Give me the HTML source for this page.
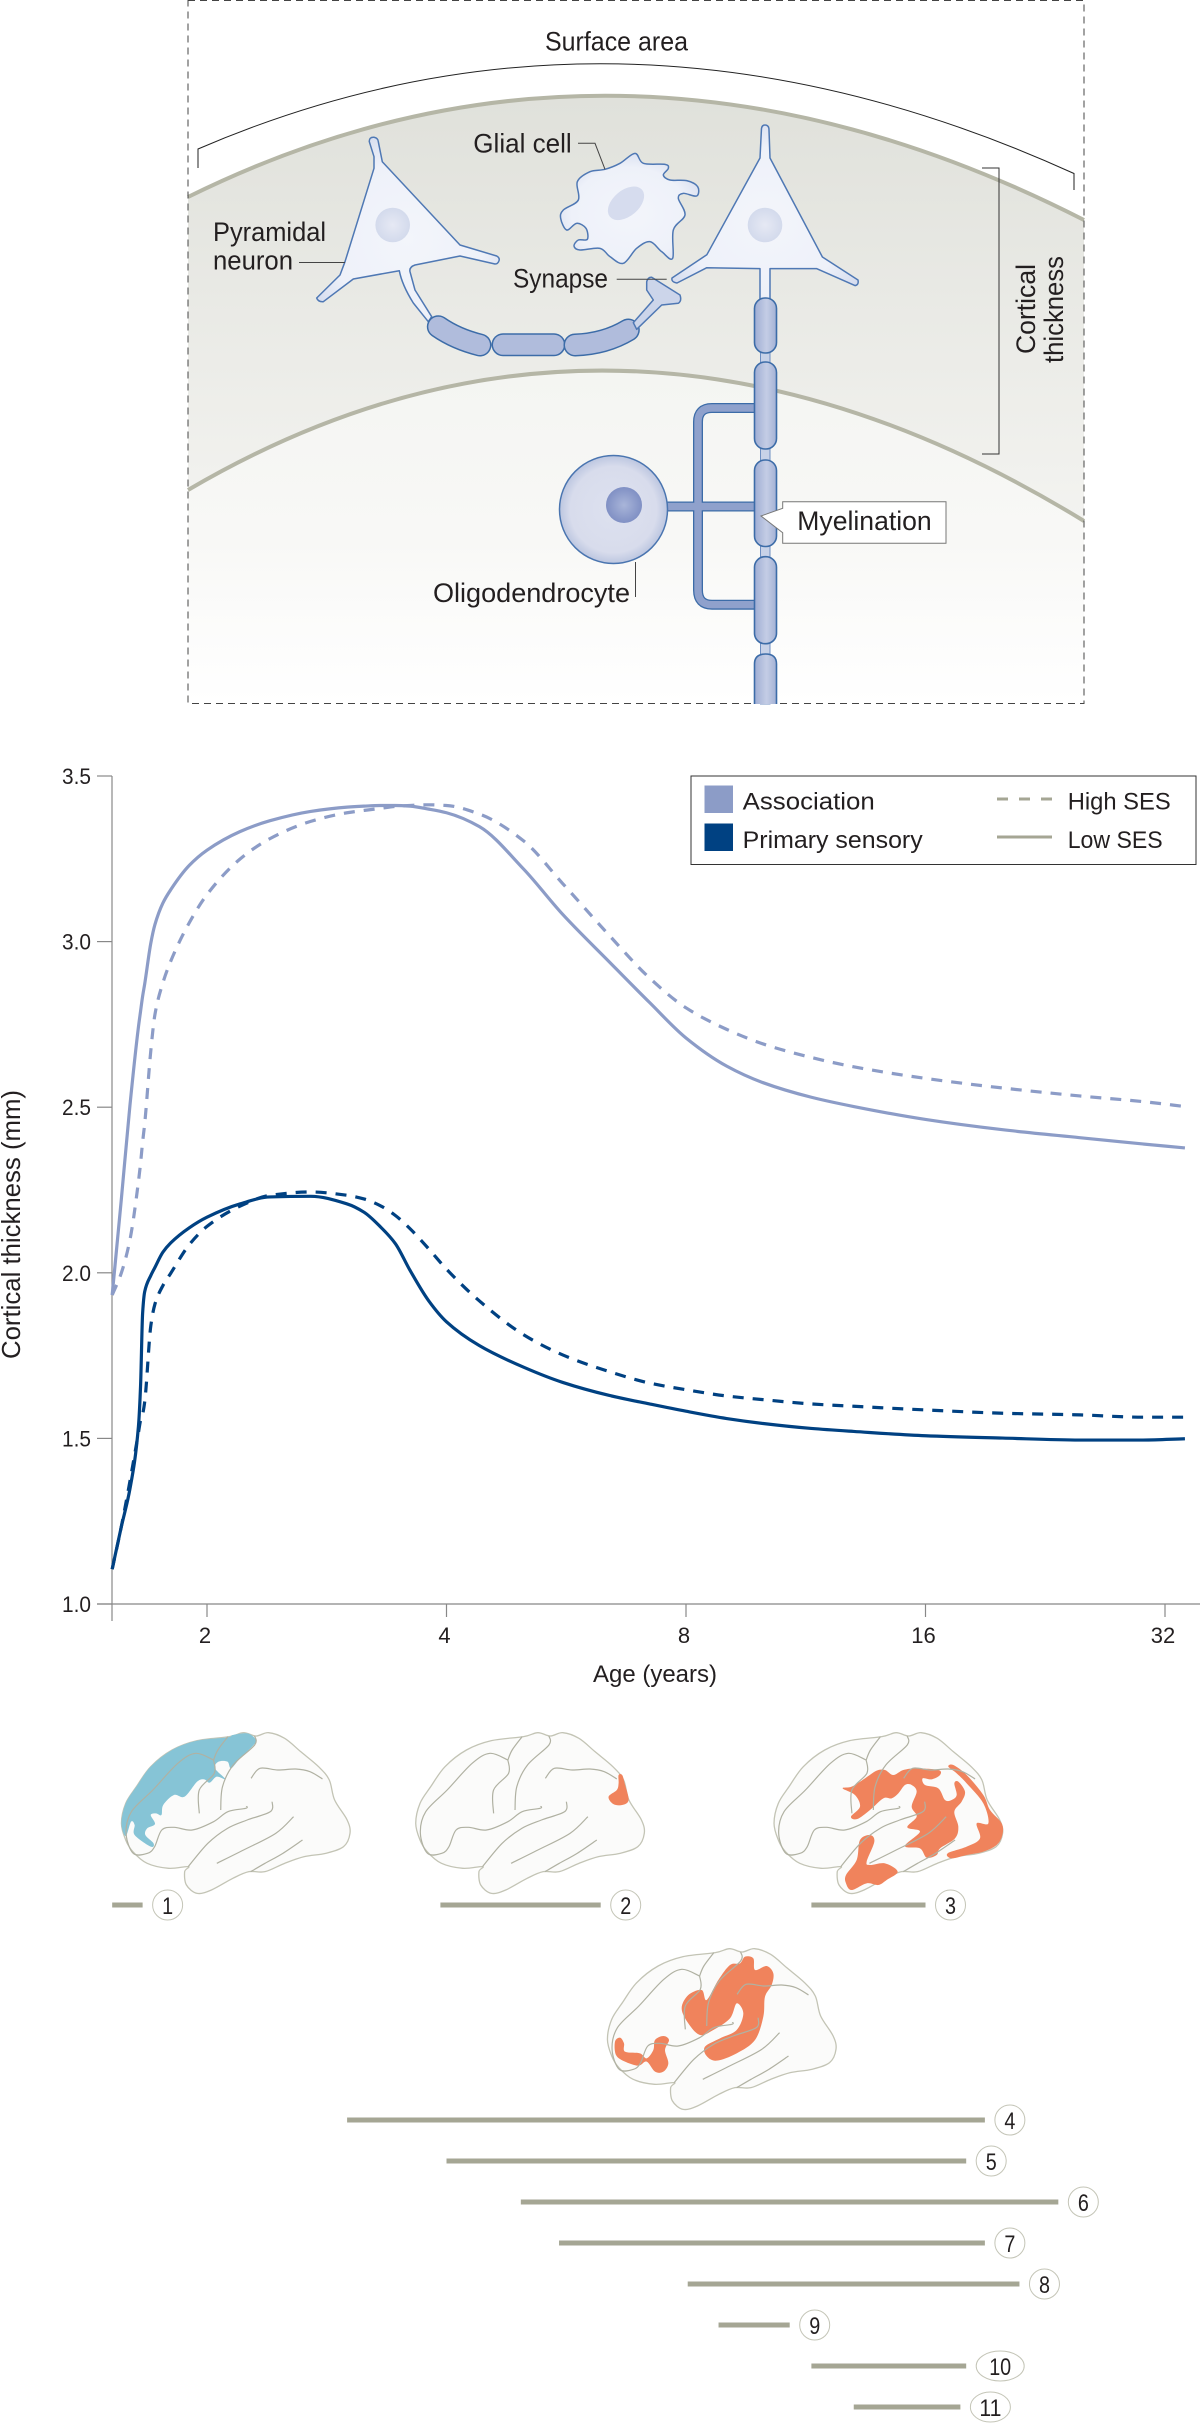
<!DOCTYPE html>
<html lang="en">
<head>
<meta charset="utf-8">
<title>Cortical thickness development</title>
<style>
html,body{margin:0;padding:0;background:#fff}
svg{display:block}
text{font-family:"Liberation Sans",sans-serif;fill:#231f20}
.lbl{font-size:27px}
.ax{font-size:22px}
.bs{fill:#fbfbfa;stroke:#c3c4b5;stroke-width:1.3;vector-effect:non-scaling-stroke}
.sl{fill:none;stroke:#b0b1a2;stroke-width:1.2;vector-effect:non-scaling-stroke}
.or{fill:#f0835c;stroke:none}
.soma{fill:url(#soma-grad);stroke:#4f78b4;stroke-width:1.5;stroke-linejoin:round;vector-effect:non-scaling-stroke}
.myel{fill:url(#myel-grad);stroke:#3c6ca8;stroke-width:1.6}
.lead{fill:none;stroke:#444;stroke-width:1}
</style>
</head>
<body>
<svg id="figure" xmlns="http://www.w3.org/2000/svg" width="1200" height="2423" viewBox="0 0 1200 2423">
<defs>
<linearGradient id="band-grad" gradientUnits="userSpaceOnUse" x1="0" y1="100" x2="0" y2="520"><stop offset="0" stop-color="#e0e1db"/><stop offset="1" stop-color="#f3f3f0"/></linearGradient>
<linearGradient id="white-grad" gradientUnits="userSpaceOnUse" x1="0" y1="370" x2="0" y2="704"><stop offset="0" stop-color="#f4f5f2"/><stop offset="0.5" stop-color="#f8f8f6"/><stop offset="1" stop-color="#ffffff"/></linearGradient>
<radialGradient id="soma-grad" cx="0.5" cy="0.55" r="0.6"><stop offset="0" stop-color="#f3f5fb"/><stop offset="0.7" stop-color="#eef1f9"/><stop offset="1" stop-color="#d6ddef"/></radialGradient>
<linearGradient id="myel-grad" x1="0" y1="0" x2="1" y2="0"><stop offset="0" stop-color="#9fadd3"/><stop offset="0.55" stop-color="#c4cde5"/><stop offset="1" stop-color="#a3b1d5"/></linearGradient>
<radialGradient id="nuc-grad"><stop offset="0" stop-color="#e6e9f4"/><stop offset="1" stop-color="#d3daec"/></radialGradient>
<radialGradient id="oligo-grad"><stop offset="0" stop-color="#dde1ef"/><stop offset="0.8" stop-color="#d8dcec"/><stop offset="1" stop-color="#bcc6e0"/></radialGradient>
<radialGradient id="oligo-nuc-grad"><stop offset="0" stop-color="#a9b5d9"/><stop offset="1" stop-color="#8090c4"/></radialGradient>
<path id="brain-outline" class="bs" data-pts="88,370 100,310 130,260 170,200 230,150 300,122 390,110 430,98 465,108 500,98 545,115 590,155 640,200 670,240 685,300 720,360 728,400 710,440 660,460 600,470 545,490 490,515 445,515 400,535 340,570 300,580 270,555 265,515 275,500 220,505 160,490 120,455 100,420"/>
<g id="brain-sulci">
<path class="sl" data-open="1" data-pts="386,110 358,150 346,180"/>
<path class="sl" data-open="1" data-pts="346,180 296,160 246,190 176,270 116,335 101,400 121,460 161,460 181,440 201,390 236,382 286,390 346,365 386,335 436,325 438,318"/>
<path class="sl" data-open="1" data-pts="346,180 348,220 306,270 306,340"/>
<path class="sl" data-open="1" data-pts="461,108 461,135 401,195 371,260 366,330"/>
<path class="sl" data-open="1" data-pts="451,235 476,205 526,210 576,207 616,215 651,237"/>
<path class="sl" data-open="1" data-pts="510,305 505,335 440,360 385,385 330,430 275,500"/>
<path class="sl" data-open="1" data-pts="355,490 430,450 520,400 570,350"/>
<path class="sl" data-open="1" data-pts="595,420 540,460 490,490 450,515"/>
</g>
</defs>

<g id="cortex-illustration">
<path d="M188,490 Q620,236.5 1084,521 L1084,704 L188,704 Z" fill="url(#white-grad)"/>
<path d="M188,197 Q620,-16.5 1084,220 L1084,521 Q620,236.5 188,490 Z" fill="url(#band-grad)"/>
<path d="M188,197 Q620,-16.5 1084,220" fill="none" stroke="#b5b6a6" stroke-width="4"/>
<path d="M188,490 Q620,236.5 1084,521" fill="none" stroke="#b5b6a6" stroke-width="4"/>
<rect x="188" y="0.5" width="896" height="703" fill="none" stroke="#444" stroke-width="1" stroke-dasharray="7 5"/>
<path d="M198,168 L198,149 Q620,-33 1074,173.5 L1074,190" fill="none" stroke="#222" stroke-width="1"/>
<path d="M982,168 L999,168 L999,454 L982,454" fill="none" stroke="#333" stroke-width="1"/>

<g>
<path class="soma" d="M369.3,141.7 Q369,137 374,137.3 Q378,138 378.3,141.7 L382.3,161.7 L460,245 L496.7,256 Q500,258 499,260.7 Q498,264 495,264 L460,256 L415,265 Q409,267 410,271.7 L415,290 L431.7,316.7 L428.3,321.7 L413.3,303 Q402,285 399.3,270.7 L353.3,279 L323.3,301.7 Q318,302 316.7,298 L340,275 L345,261.7 L374,168.3 L374,156.7 Z"/>
<circle cx="392.7" cy="225" r="17.3" fill="url(#nuc-grad)"/>
</g>
<g>
<path d="M438.3,326.7 Q456,339 480,345" fill="none" stroke="#3c6ca8" stroke-width="23" stroke-linecap="round"/>
<path d="M438.3,326.7 Q456,339 480,345" fill="none" stroke="#b0bcdc" stroke-width="20" stroke-linecap="round"/>
<path d="M503,344.7 L554,344.7" fill="none" stroke="#3c6ca8" stroke-width="23" stroke-linecap="round"/>
<path d="M503,344.7 L554,344.7" fill="none" stroke="#b0bcdc" stroke-width="20" stroke-linecap="round"/>
<path d="M575,345 Q605,344 628.3,330" fill="none" stroke="#3c6ca8" stroke-width="23" stroke-linecap="round"/>
<path d="M575,345 Q605,344 628.3,330" fill="none" stroke="#b0bcdc" stroke-width="20" stroke-linecap="round"/>
</g>
<path d="M646.7,281.7 Q648,277 651.7,277.3 L680,295 Q682,301 678.3,303.3 L661.7,305 L636.7,329.3 L633.3,322.7 L653.3,300 L646.7,290 Z" fill="#ccd5ea" stroke="#4f78b4" stroke-width="1.5" stroke-linejoin="round"/>

<g>
<path class="soma" transform="translate(300,120) scale(.33333)" data-pts="1005,100 1030,130 1095,133 1105,145 1090,165 1110,180 1160,182 1193,200 1190,228 1150,220 1135,235 1155,285 1120,330 1118,415 1085,395 1050,365 1010,385 970,430 930,410 900,385 840,390 822,378 835,360 862,358 858,325 830,310 800,330 782,295 790,270 835,240 832,185 870,155 915,148 960,130"/>
<ellipse cx="626" cy="203.3" rx="21" ry="13" transform="rotate(-40 626 203.3)" fill="#d6dcee"/>
</g>

<g>
<rect x="760.5" y="290" width="9.5" height="414" fill="#c8d2e8" stroke="#6f8fc2" stroke-width="1"/>
</g>
<g>
<path d="M665,506.5 L756,506.5 M698,506.5 L698,422 Q698,408 712,408 L756,408 M698,506.5 L698,590 Q698,604.7 712,604.7 L756,604.7" fill="none" stroke="#3c6ca8" stroke-width="10"/>
<path d="M665,506.5 L756,506.5 M698,506.5 L698,422 Q698,408 712,408 L756,408 M698,506.5 L698,590 Q698,604.7 712,604.7 L756,604.7" fill="none" stroke="#8fa1cc" stroke-width="7.4"/>
</g>
<g>
<path class="soma" d="M761.4,130 Q761.5,125 765,125 Q769,125 769,130 L770,158 L822.4,257 L858,280 Q859,285 855,285.6 L816.5,268.6 L770,268.6 L770,300 L760,300 L760,268.6 L706.8,267.7 L677,283 Q671,282 672,278 L706.8,254.8 L760,158 Z"/>
<circle cx="765" cy="225" r="17.3" fill="url(#nuc-grad)"/>
</g>
<g>
<rect class="myel" x="754.5" y="298" width="22" height="55" rx="10.5"/>
<rect class="myel" x="754.5" y="362" width="22" height="87" rx="10.5"/>
<rect class="myel" x="754.5" y="460" width="22" height="86.5" rx="10.5"/>
<rect class="myel" x="754.5" y="556.7" width="22" height="87" rx="10.5"/>
<path class="myel" d="M754.5,704 L754.5,664 Q754.5,654 765.5,654 Q776.5,654 776.5,664 L776.5,704"/>
</g>
<g>
<circle cx="613.5" cy="509.5" r="54" fill="url(#oligo-grad)" stroke="#4a75b0" stroke-width="1.5"/>
<circle cx="624" cy="505" r="18" fill="url(#oligo-nuc-grad)"/>
</g>

<path class="lead" d="M299,262.5 L345,262.5"/>
<path class="lead" d="M578,143.3 L595,143.3 L605,169.3"/>
<path class="lead" d="M616.7,279.3 L666.7,279.3"/>
<path class="lead" d="M635.5,562 L635.5,597"/>
<path d="M782.7,501.7 L946,501.7 L946,543.3 L782.7,543.3 L782.7,532.7 L761,516 L782.7,508.3 Z" fill="#fff" stroke="#777" stroke-width="1"/>

<text class="lbl" x="545" y="50.5" textLength="143" lengthAdjust="spacingAndGlyphs">Surface area</text>
<text class="lbl" x="473.3" y="152.7" textLength="98.4" lengthAdjust="spacingAndGlyphs">Glial cell</text>
<text class="lbl" x="213" y="241" textLength="113" lengthAdjust="spacingAndGlyphs">Pyramidal</text>
<text class="lbl" x="213" y="269.5" textLength="80" lengthAdjust="spacingAndGlyphs">neuron</text>
<text class="lbl" x="513" y="287.7" textLength="95" lengthAdjust="spacingAndGlyphs">Synapse</text>
<text class="lbl" x="433" y="602" textLength="197" lengthAdjust="spacingAndGlyphs">Oligodendrocyte</text>
<text class="lbl" x="797.3" y="530" textLength="134.4" lengthAdjust="spacingAndGlyphs">Myelination</text>
<text class="lbl" transform="translate(1035,354) rotate(-90)" textLength="90" lengthAdjust="spacingAndGlyphs">Cortical</text>
<text class="lbl" transform="translate(1063,363) rotate(-90)" textLength="107" lengthAdjust="spacingAndGlyphs">thickness</text>
</g>

<g id="chart">
<g id="axes"></g>
<g id="series"></g>
<text x="593" y="1682" font-size="24" textLength="124" lengthAdjust="spacingAndGlyphs">Age (years)</text>
<text transform="translate(20,1359) rotate(-90)" font-size="26" textLength="269" lengthAdjust="spacingAndGlyphs">Cortical thickness (mm)</text>
<g>
<rect x="691" y="776" width="505" height="88.5" fill="#fff" stroke="#333" stroke-width="1"/>
<rect x="704.5" y="785.5" width="28.5" height="27.5" fill="#8c9cc7"/>
<rect x="704.5" y="823.5" width="28.5" height="27.5" fill="#004182"/>
<text x="742.7" y="809.4" font-size="24" textLength="132" lengthAdjust="spacingAndGlyphs">Association</text>
<text x="742.7" y="848" font-size="24" textLength="180" lengthAdjust="spacingAndGlyphs">Primary sensory</text>
<line x1="997" y1="799" x2="1052" y2="799" stroke="#a5a694" stroke-width="3" stroke-dasharray="11 11"/>
<line x1="997" y1="837" x2="1052" y2="837" stroke="#a5a694" stroke-width="3"/>
<text x="1067.7" y="809.4" font-size="24" textLength="103" lengthAdjust="spacingAndGlyphs">High SES</text>
<text x="1067.7" y="848" font-size="24" textLength="95" lengthAdjust="spacingAndGlyphs">Low SES</text>
</g>
</g>

<g transform="translate(90,1700) scale(.35714,.33333)">
<use href="#brain-outline"/>
<path fill="#86c4d6" data-pts="462,115 440,100 400,105 385,112 300,122 230,150 170,200 130,260 100,310 88,370 100,408 115,365 125,375 125,405 170,440 178,430 155,405 160,385 182,372 170,345 185,340 200,345 205,315 235,285 265,290 300,245 320,238 335,248 355,230 380,238 350,205 360,185 385,185 395,205 420,175 462,130"/>
<use href="#brain-sulci"/>
</g>
<g transform="translate(384.3,1700) scale(.35714,.33333)">
<use href="#brain-outline"/>
<path class="or" data-pts="656,225 666,225 673,250 684,300 666,315 641,312 628,290 651,270 656,250"/>
<use href="#brain-sulci"/>
</g>
<g>
<use transform="translate(742.6,1700) scale(.35714,.33333)" href="#brain-outline"/>
<g transform="translate(770,1720) scale(.33333)">
<path class="or" data-pts="218,205 245,200 285,175 320,152 345,150 370,165 400,150 440,145 505,150 510,165 485,178 458,175 465,195 505,205 525,240 545,240 560,225 553,190 565,185 585,215 575,245 553,275 565,320 555,355 510,385 500,405 470,413 450,385 405,378 450,335 412,322 440,290 425,260 440,215 425,195 405,195 385,220 365,235 340,235 300,270 262,297 243,290 270,260 255,225"/>
<path class="or" data-pts="535,140 550,135 590,165 640,225 660,270 695,310 697,345 680,375 640,395 590,405 545,415 533,400 590,380 630,355 620,310 655,310 640,250 590,190 560,160"/>
<path class="or" data-pts="270,360 300,345 313,365 290,425 300,435 345,430 383,455 350,480 325,495 290,490 245,510 228,490 228,465 260,420"/>
</g>
<use transform="translate(742.6,1700) scale(.35714,.33333)" href="#brain-sulci"/>
</g>
<g>
<use transform="translate(576,1916) scale(.35714,.33333)" href="#brain-outline"/>
<g transform="translate(600,1700) scale(.33333)">
<path class="or" data-pts="245,925 265,885 305,870 320,900 355,840 390,795 420,790 435,770 460,775 465,810 500,798 520,820 515,855 495,890 490,950 465,1020 410,1060 350,1082 320,1068 315,1040 360,1015 410,990 430,940 410,910 390,955 340,990 300,1005 265,970"/>
<path class="or" data-pts="45,1025 60,1013 72,1030 75,1055 120,1060 140,1075 160,1050 165,1020 190,1008 207,1020 195,1050 205,1090 190,1115 165,1115 140,1085 115,1097 75,1085 48,1065"/>
</g>
<use transform="translate(576,1916) scale(.35714,.33333)" href="#brain-sulci"/>
</g>
<g id="study-bars"></g>
</svg>

<script>
// Chart data
var ages = [1.52,1.56,1.6,1.64,1.65,1.66,1.67,1.7,1.72,1.76,1.8,1.9,2,2.2,2.4,2.7,3,3.15,3.3,3.45,3.6,3.8,4,4.4,5,5.6,6.4,7.2,8,9,10,11.5,13,16,20,25,30,33.9];
var associationLowSES = [1.933,2.216,2.504,2.742,2.789,2.835,2.872,2.996,3.051,3.116,3.156,3.230,3.276,3.332,3.365,3.393,3.406,3.409,3.411,3.411,3.409,3.400,3.389,3.347,3.219,3.082,2.940,2.816,2.709,2.624,2.574,2.530,2.502,2.463,2.432,2.408,2.389,2.377];
var associationHighSES = [1.933,1.998,2.099,2.275,2.330,2.395,2.450,2.672,2.779,2.875,2.940,3.057,3.142,3.249,3.311,3.363,3.389,3.396,3.402,3.408,3.411,3.413,3.411,3.385,3.304,3.175,3.020,2.890,2.800,2.735,2.691,2.650,2.622,2.587,2.558,2.534,2.517,2.502];
var primaryLowSES = [1.105,1.231,1.347,1.536,1.656,1.878,1.943,1.992,2.016,2.062,2.090,2.136,2.168,2.208,2.229,2.231,2.208,2.183,2.140,2.088,2.007,1.915,1.852,1.780,1.715,1.669,1.630,1.604,1.582,1.560,1.545,1.530,1.521,1.508,1.501,1.495,1.495,1.499];
var primaryHighSES = [1.105,1.231,1.370,1.517,1.554,1.573,1.610,1.841,1.905,1.961,1.998,2.085,2.140,2.201,2.234,2.244,2.234,2.223,2.203,2.173,2.133,2.072,2.011,1.915,1.813,1.752,1.702,1.667,1.647,1.628,1.617,1.604,1.597,1.586,1.576,1.571,1.564,1.564];
var xTickValues = [2,4,8,16,32];
var xTickLabels = ["2","4","8","16","32"];
var yTickValues = [1,1.5,2,2.5,3,3.5];
var yTickLabels = ["1.0","1.5","2.0","2.5","3.0","3.5"];
var studyIds = ["1","2","3","4","5","6","7","8","9","10","11"];
var studyStartAges = [1.52,3.93,11.5,3,4,4.96,5.54,8.04,8.79,11.5,13];
var studyEndAges = [1.66,6.25,16,19,18,23.5,19,21,10.8,18,17.7];

var NS = 'http://www.w3.org/2000/svg';
function xScale(age){ return 207 + 239.5 * (Math.log(age) / Math.LN2 - 1); }
function yScale(v){ return 1604 - (v - 1) * 331.2; }
function make(tag, attrs, parent){
  var el = document.createElementNS(NS, tag);
  for (var k in attrs) el.setAttribute(k, attrs[k]);
  parent.appendChild(el);
  return el;
}
// Smooth illustration shapes
function smoothPath(pts, closed){
  var n = pts.length, d = 'M' + pts[0][0] + ',' + pts[0][1];
  var last = closed ? n : n - 1;
  for (var i = 0; i < last; i++){
    var p0 = closed ? pts[(i - 1 + n) % n] : pts[Math.max(i - 1, 0)];
    var p1 = pts[i];
    var p2 = pts[(i + 1) % n];
    var p3 = closed ? pts[(i + 2) % n] : pts[Math.min(i + 2, n - 1)];
    d += ' C' + (p1[0] + (p2[0] - p0[0]) / 6).toFixed(1) + ',' + (p1[1] + (p2[1] - p0[1]) / 6).toFixed(1) + ' ' +
         (p2[0] - (p3[0] - p1[0]) / 6).toFixed(1) + ',' + (p2[1] - (p3[1] - p1[1]) / 6).toFixed(1) + ' ' + p2[0] + ',' + p2[1];
  }
  return d + (closed ? ' Z' : '');
}
Array.prototype.forEach.call(document.querySelectorAll('[data-pts]'), function(el){
  var pts = el.getAttribute('data-pts').trim().split(/\s+/).map(function(s){ return s.split(',').map(Number); });
  el.setAttribute('d', smoothPath(pts, !el.hasAttribute('data-open')));
});
// Monotone cubic line through data points
function linePath(xs, ys){
  var n = xs.length, m = [], s = [], i;
  for (i = 0; i < n - 1; i++) s.push((ys[i + 1] - ys[i]) / (xs[i + 1] - xs[i]));
  m[0] = s[0]; m[n - 1] = s[n - 2];
  for (i = 1; i < n - 1; i++){
    if (s[i - 1] * s[i] <= 0) m[i] = 0;
    else {
      var a = xs[i] - xs[i - 1], b = xs[i + 1] - xs[i];
      m[i] = 3 * (a + b) / ((2 * b + a) / s[i - 1] + (b + 2 * a) / s[i]);
    }
  }
  var d = 'M' + xs[0].toFixed(2) + ',' + ys[0].toFixed(2);
  for (i = 0; i < n - 1; i++){
    var h = (xs[i + 1] - xs[i]) / 3;
    d += ' C' + (xs[i] + h).toFixed(2) + ',' + (ys[i] + m[i] * h).toFixed(2) + ' ' +
         (xs[i + 1] - h).toFixed(2) + ',' + (ys[i + 1] - m[i + 1] * h).toFixed(2) + ' ' +
         xs[i + 1].toFixed(2) + ',' + ys[i + 1].toFixed(2);
  }
  return d;
}

var axes = document.getElementById('axes');
var yAxisLine = make('line', {x1:112, y1:yScale(3.5), x2:112, y2:yScale(1) + 17, stroke:'#888', 'stroke-width':1.2}, axes);


var xAxisLine = make('line', {x1:97, y1:yScale(1), x2:1200, y2:yScale(1), stroke:'#888', 'stroke-width':1.2}, axes);


yTickValues.forEach(function(v, i){
  var y = yScale(v);
  var tick = make('line', {x1:97, y1:y, x2:112, y2:y, stroke:'#888', 'stroke-width':1.2}, axes);
  
  
  var label = make('text', {x:62, y:y + 8, 'class':'ax', textLength:29, lengthAdjust:'spacingAndGlyphs'}, axes);
  label.textContent = yTickLabels[i];
  
  
});
xTickValues.forEach(function(v, i){
  var x = xScale(v);
  var tick = make('line', {x1:x, y1:yScale(1), x2:x, y2:yScale(1) + 13, stroke:'#888', 'stroke-width':1.2}, axes);
  
  
  var label = make('text', {x:x - 2, y:1643, 'class':'ax', 'text-anchor':'middle'}, axes);
  label.textContent = xTickLabels[i];
  
  
});

var seriesGroup = document.getElementById('series');
function drawSeries(values, color, dashed){
  return make('path', {
    d: linePath(ages.map(xScale), values.map(yScale)),
    fill: 'none', stroke: color, 'stroke-width': 3.2, 'stroke-linejoin': 'round',
    'stroke-dasharray': dashed ? '11 9' : 'none'
  }, seriesGroup);
}
var assocHighLine = drawSeries(associationHighSES, '#8c9cc7', true);


var assocLowLine = drawSeries(associationLowSES, '#8c9cc7', false);


var primaryHighLine = drawSeries(primaryHighSES, '#004182', true);


var primaryLowLine = drawSeries(primaryLowSES, '#004182', false);



var studyGroup = document.getElementById('study-bars');
studyIds.forEach(function(id, i){
  var y = i < 3 ? 1905 : 2120 + 41 * (i - 3);
  var x1 = xScale(studyStartAges[i]), x2 = xScale(studyEndAges[i]);
  var bar = make('rect', {x:x1, y:y - 2.5, width:x2 - x1, height:5, fill:'#a5a694'}, studyGroup);
  
  
  var rx = id === '10' ? 24 : (id === '11' ? 20 : 15);
  var cx = x2 + 10 + rx;
  var badge = make('ellipse', {cx:cx, cy:y, rx:rx, ry:15, fill:'#fff', stroke:'#c4c5b7', 'stroke-width':1}, studyGroup);
  
  
  var num = make('text', {x:cx, y:y + 9, 'font-size':24, 'text-anchor':'middle', textLength:11 * id.length, lengthAdjust:'spacingAndGlyphs'}, studyGroup);
  num.textContent = id;
  
  
});
</script>
</body>
</html>
